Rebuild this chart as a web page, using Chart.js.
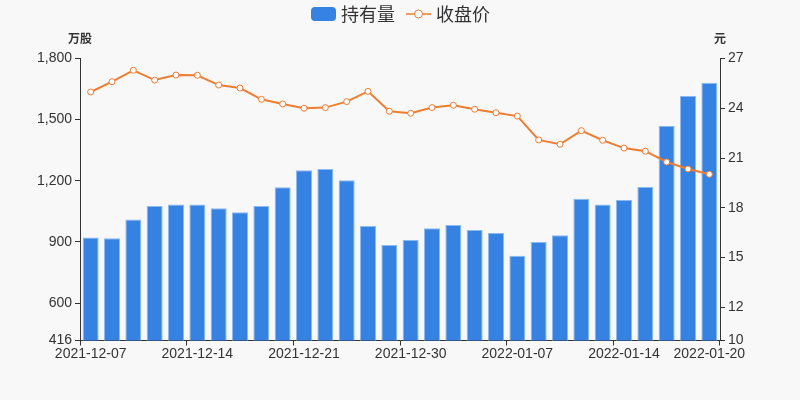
<!DOCTYPE html>
<html>
<head>
<meta charset="utf-8">
<script src="https://cdn.jsdelivr.net/npm/chart.js@4/dist/chart.umd.min.js"></script>
<style>
  html, body { margin: 0; padding: 0; background: #f8f8f8; }
  #wrap { width: 800px; height: 400px; }
</style>
</head>
<body>
<div id="wrap"><canvas id="c" width="800" height="400"></canvas></div>
<script>
const dates = [
  '2021-12-07','2021-12-08','2021-12-09','2021-12-10','2021-12-13',
  '2021-12-14','2021-12-15','2021-12-16','2021-12-17','2021-12-20',
  '2021-12-21','2021-12-22','2021-12-23','2021-12-24','2021-12-27',
  '2021-12-30','2021-12-31','2022-01-04','2022-01-05','2022-01-06',
  '2022-01-07','2022-01-10','2022-01-11','2022-01-12','2022-01-13',
  '2022-01-14','2022-01-17','2022-01-18','2022-01-19','2022-01-20'
];
const holdings = [
  922, 918, 1010, 1076, 1084, 1084, 1065, 1045, 1076, 1168,
  1251, 1258, 1202, 978, 885, 909, 967, 983, 958, 944,
  832, 899, 932, 1112, 1084, 1105, 1169, 1470, 1616, 1681
];
const closePrice = [
  24.98, 25.60, 26.29, 25.70, 26.00, 25.99, 25.40, 25.22, 24.54, 24.26,
  24.00, 24.04, 24.40, 25.02, 23.82, 23.70, 24.04, 24.18, 23.94, 23.73,
  23.53, 22.09, 21.83, 22.65, 22.07, 21.60, 21.41, 20.76, 20.34, 20.02
];
const leftTicks = [416, 600, 900, 1200, 1500, 1800];
const rightTicks = [10, 12, 15, 18, 21, 24, 27];
const seriesNames = ['持有量', '收盘价'];
const leftUnit = '万股';
const rightUnit = '元';

const BAR_COLOR = '#3582e2';
const LINE_COLOR = '#ef7d31';
const TEXT_COLOR = '#333';
const FONT = '"Liberation Sans", Arial, "Noto Sans CJK SC", sans-serif';
const CJK_FONT = '"Noto Sans CJK SC", "Liberation Sans", sans-serif';

// legend icon canvases: 35 wide, icon drawn in the right 25px
function makeBarIcon() {
  const c = document.createElement('canvas');
  c.width = 35; c.height = 14;
  const g = c.getContext('2d');
  g.fillStyle = BAR_COLOR;
  g.beginPath();
  if (g.roundRect) g.roundRect(10, 0, 25, 14, 4); else g.rect(10, 0, 25, 14);
  g.fill();
  return c;
}
function makeLineIcon() {
  const c = document.createElement('canvas');
  c.width = 35; c.height = 14;
  const g = c.getContext('2d');
  g.strokeStyle = LINE_COLOR;
  g.lineWidth = 1.5;
  g.beginPath(); g.moveTo(10, 7); g.lineTo(35, 7); g.stroke();
  g.fillStyle = '#fafafa';
  g.lineWidth = 1;
  g.beginPath(); g.arc(22.5, 7, 4, 0, Math.PI * 2); g.fill(); g.stroke();
  return c;
}
const barIcon = makeBarIcon();
const lineIcon = makeLineIcon();

const bgPlugin = {
  id: 'bg',
  beforeDraw(chart) {
    const ctx = chart.ctx;
    ctx.save();
    ctx.fillStyle = '#f8f8f8';
    ctx.fillRect(0, 0, chart.width, chart.height);
    ctx.restore();
  }
};
const unitPlugin = {
  id: 'units',
  afterDraw(chart) {
    const ctx = chart.ctx;
    ctx.save();
    ctx.font = 'bold 12px ' + CJK_FONT;
    ctx.fillStyle = TEXT_COLOR;
    ctx.textAlign = 'center';
    ctx.textBaseline = 'middle';
    ctx.fillText(leftUnit, chart.scales.y.right, 38);
    ctx.fillText(rightUnit, chart.scales.y1.left, 38);
    ctx.restore();
  }
};
const legendSpace = {
  id: 'legendSpace',
  beforeInit(chart) {
    const origFit = chart.legend.fit;
    chart.legend.fit = function () {
      origFit.bind(chart.legend)();
      this.height = 58.5;
      if (this.lineWidths && this.lineWidths.length) this.lineWidths[0] += 5;
    };
  }
};

new Chart(document.getElementById('c'), {
  data: {
    labels: dates,
    datasets: [
      {
        type: 'bar',
        label: seriesNames[0],
        data: holdings,
        yAxisID: 'y',
        backgroundColor: BAR_COLOR,
        borderColor: '#8cb9ef',
        borderWidth: 1,
        barPercentage: 0.75,
        categoryPercentage: 1.0,
        order: 2
      },
      {
        type: 'line',
        label: seriesNames[1],
        data: closePrice,
        yAxisID: 'y1',
        borderColor: LINE_COLOR,
        borderWidth: 2,
        pointRadius: 3,
        pointBorderWidth: 1,
        pointBackgroundColor: '#fff',
        pointBorderColor: LINE_COLOR,
        tension: 0,
        order: 1
      }
    ]
  },
  options: {
    responsive: false,
    animation: false,
    devicePixelRatio: 1,
    layout: { padding: { left: 0, right: 0, top: 0, bottom: 0 } },
    plugins: {
      legend: {
        position: 'top',
        align: 'center',
        labels: {
          usePointStyle: true,
          pointStyleWidth: 27,
          boxHeight: 14,
          padding: 5,
          color: TEXT_COLOR,
          font: { size: 18, family: CJK_FONT },
          generateLabels() {
            return [
              { text: seriesNames[0], pointStyle: barIcon, fillStyle: BAR_COLOR, strokeStyle: BAR_COLOR, lineWidth: 0, datasetIndex: 0, fontColor: TEXT_COLOR },
              { text: seriesNames[1], pointStyle: lineIcon, fillStyle: '#fff', strokeStyle: LINE_COLOR, lineWidth: 0, datasetIndex: 1, fontColor: TEXT_COLOR }
            ];
          }
        }
      },
      tooltip: { enabled: false }
    },
    scales: {
      x: {
        type: 'category',
        offset: true,
        grid: {
          display: true,
          offset: true,
          drawOnChartArea: false,
          drawTicks: true,
          tickLength: 5,
          tickColor: (ctx) => (ctx.index === undefined || ctx.index % 5 === 0) ? '#333' : 'rgba(0,0,0,0)'
        },
        border: { display: true, color: '#333', width: 1 },
        ticks: {
          autoSkip: false,
          maxRotation: 0,
          minRotation: 0,
          padding: 0,
          color: TEXT_COLOR,
          font: { size: 14, family: FONT },
          callback: function (v, i) {
            return (i % 5 === 0 || i === dates.length - 1) ? dates[i] : '';
          }
        },
        afterFit(scale) { scale.height = 59.5; }
      },
      y: {
        type: 'linear',
        position: 'left',
        min: leftTicks[0],
        max: leftTicks[leftTicks.length - 1],
        grid: { drawOnChartArea: false, drawTicks: true, tickLength: 5, tickColor: '#333' },
        border: { display: true, color: '#333', width: 1 },
        ticks: {
          padding: 3,
          color: TEXT_COLOR,
          font: { size: 14, family: FONT },
          callback: (v) => Number(v).toLocaleString('en-US')
        },
        afterBuildTicks(scale) { scale.ticks = leftTicks.map(v => ({ value: v })); },
        afterFit(scale) { scale.width = 80; }
      },
      y1: {
        type: 'linear',
        position: 'right',
        min: rightTicks[0],
        max: rightTicks[rightTicks.length - 1],
        grid: { drawOnChartArea: false, drawTicks: true, tickLength: 5, tickColor: '#333' },
        border: { display: true, color: '#333', width: 1 },
        ticks: {
          padding: 3,
          color: TEXT_COLOR,
          font: { size: 14, family: FONT }
        },
        afterBuildTicks(scale) { scale.ticks = rightTicks.map(v => ({ value: v })); },
        afterFit(scale) { scale.width = 80; }
      }
    }
  },
  plugins: [bgPlugin, unitPlugin, legendSpace]
});
</script>
</body>
</html>
